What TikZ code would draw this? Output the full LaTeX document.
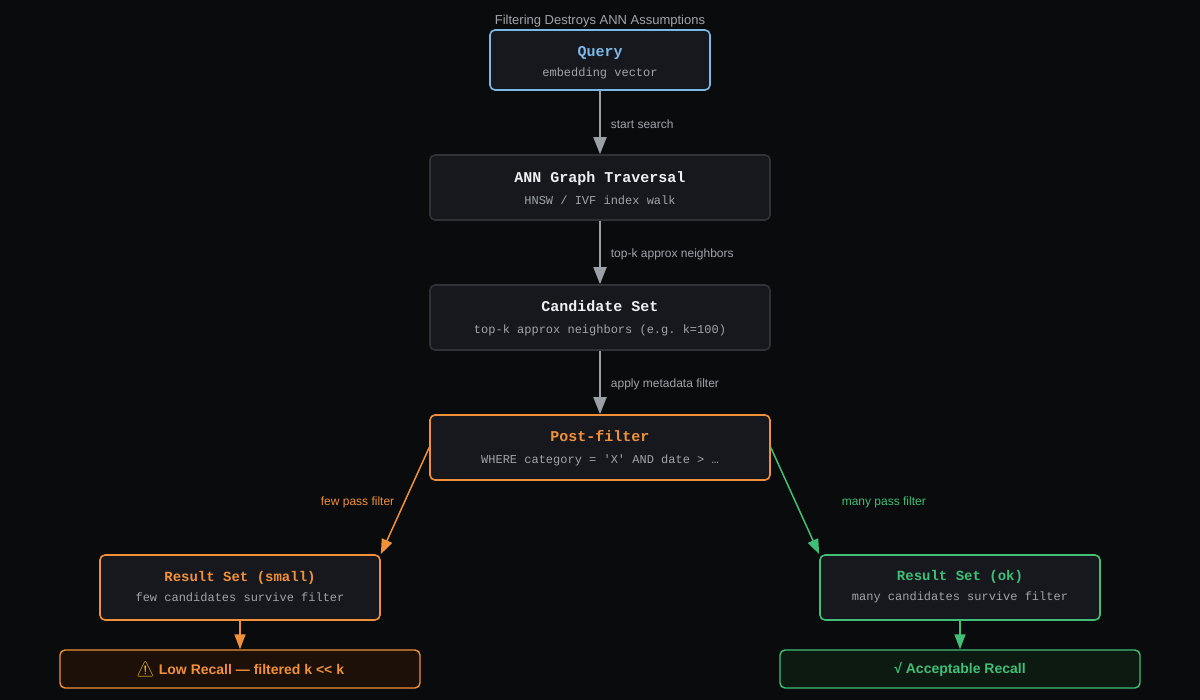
\documentclass[tikz,border=0pt]{standalone}
\usepackage{fontspec}
\setmainfont{Liberation Sans}
\setmonofont{Liberation Mono}
\newfontfamily\emojifont{Noto Emoji}
\usetikzlibrary{arrows.meta}

\definecolor{canvas}{HTML}{0A0B0D}
\definecolor{boxfill}{HTML}{16181D}
\definecolor{boxline}{HTML}{2F3238}
\definecolor{qblue}{HTML}{7CB9E8}
\definecolor{warnorange}{HTML}{F0913A}
\definecolor{okgreen}{HTML}{3FBF78}
\definecolor{titlewhite}{HTML}{EEF0F2}
\definecolor{subgray}{HTML}{A0A4AA}
\definecolor{edgegray}{HTML}{9AA0A6}
\definecolor{lowfill}{HTML}{1C1008}
\definecolor{okfill}{HTML}{0C1A11}
\definecolor{warnyellow}{HTML}{F5C518}

\tikzset{>={Triangle[length=17pt,width=13pt]}}
\tikzset{
  box/.style={draw=boxline, fill=boxfill, line width=1.6pt, rounded corners=5pt,
    align=center, inner sep=0pt, minimum width=340pt, minimum height=65pt,
    text height=35pt, font=\fontsize{12}{22}\selectfont\ttfamily},
  sidebox/.style={box, minimum width=280pt, text height=29pt, font=\fontsize{12}{20}\selectfont\ttfamily},
  banner/.style={draw, line width=1.4pt, rounded corners=5pt, inner sep=0pt,
    minimum width=360pt, minimum height=38pt, font=\fontsize{14}{16}\selectfont\bfseries},
  flow/.style={draw=edgegray, line width=1.8pt, ->},
  lbl/.style={font=\fontsize{12}{14}\selectfont, text=subgray, inner sep=2pt},
}
\newcommand{\boxtitle}[3][15]{{\fontsize{#1}{#1}\selectfont\bfseries\color{#2}#3}}
\newcommand{\boxsub}[1]{{\color{subgray}#1}}

\begin{document}
\begin{tikzpicture}[x=1pt, y=-1pt]
    \useasboundingbox[fill=canvas] (0,0) rectangle (1200,700);
    \node[font=\fontsize{13}{15}\selectfont, text=subgray] (title) at (600,21) {Filtering Destroys ANN Assumptions};

    % main chain
    \node[box, draw=qblue, minimum width=220pt, minimum height=60pt, font=\fontsize{12}{20}\selectfont\ttfamily] (query) at (600,60)
        {\boxtitle{qblue}{Query}\\\boxsub{embedding vector}};
    \node[box] (ann) at (600,187.5)
        {\boxtitle{titlewhite}{ANN Graph Traversal}\\\boxsub{HNSW / IVF index walk}};
    \node[box] (cand) at (600,317.5)
        {\boxtitle{titlewhite}{Candidate Set}\\\boxsub{top-k approx neighbors (e.g. k=100)}};
    \node[box, draw=warnorange] (post) at (600,447.5)
        {\boxtitle{warnorange}{Post-filter}\\\boxsub{WHERE category = 'X' AND date > …}};

    % two outcomes
    \node[sidebox, draw=warnorange] (small) at (240,587.5)
        {\boxtitle[14]{warnorange}{Result Set (small)}\\\boxsub{few candidates survive filter}};
    \node[sidebox, draw=okgreen] (ok) at (960,587.5)
        {\boxtitle[14]{okgreen}{Result Set (ok)}\\\boxsub{many candidates survive filter}};
    \node[banner, draw=warnorange, fill=lowfill, text=warnorange] (low) at (240,669)
        {{\emojifont\fontsize{15}{16}\selectfont\color{warnyellow}⚠}\ Low Recall — filtered k <{}< k};
    \node[banner, draw=okgreen, fill=okfill, text=okgreen] (good) at (960,669)
        {√ Acceptable Recall};

    \draw[flow] (query) -- node[lbl, right=8pt, yshift=-2pt] {start search} (ann);
    \draw[flow] (ann) -- node[lbl, right=8pt, yshift=-2pt] {top-k approx neighbors} (cand);
    \draw[flow] (cand) -- node[lbl, right=8pt, yshift=-2pt] {apply metadata filter} (post);
    \draw[flow, draw=warnorange, line width=1.5pt, -{Triangle[length=15pt,width=11pt]}, fill=warnorange]
        (post.west) -- node[lbl, text=warnorange, left=8pt, yshift=-2pt] {few pass filter} (small.north east);
    \draw[flow, draw=okgreen, line width=1.5pt, -{Triangle[length=15pt,width=11pt]}, fill=okgreen]
        (post.east) -- node[lbl, text=okgreen, right=44pt, yshift=-2pt] {many pass filter} (ok.north west);
    \draw[flow, draw=warnorange, line width=1.5pt, -{Triangle[length=15pt,width=11pt]}] (small) -- (low);
    \draw[flow, draw=okgreen, line width=1.5pt, -{Triangle[length=15pt,width=11pt]}] (ok) -- (good);
\end{tikzpicture}
\end{document}
